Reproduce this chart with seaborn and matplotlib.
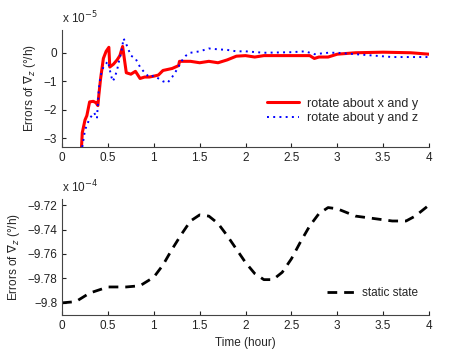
import matplotlib
matplotlib.use("Agg")
import matplotlib.pyplot as plt
import seaborn as sns
import pandas as pd

sns.set_theme(style="ticks")
plt.rcParams["font.family"] = ["Liberation Sans", "DejaVu Sans"]
plt.rcParams.update({"font.size": 8.5, "xtick.direction": "in", "ytick.direction": "in"})

# ── top panel data (units of 1e-5 deg/h)
xy_t = [0.21, 0.22, 0.25, 0.27, 0.30, 0.34, 0.37, 0.39, 0.40, 0.42, 0.45, 0.48, 0.51,
        0.52, 0.56, 0.60, 0.63, 0.66, 0.70, 0.75, 0.80, 0.85, 0.90, 0.95, 1.00, 1.05,
        1.10, 1.20, 1.27, 1.28, 1.40, 1.50, 1.60, 1.70, 1.80, 1.90, 2.00, 2.10, 2.20,
        2.50, 2.70, 2.75, 2.80, 2.90, 3.00, 3.20, 3.50, 3.80, 4.00]
xy_v = [-3.40, -2.80, -2.35, -2.20, -1.72, -1.70, -1.75, -1.85, -1.50, -0.90, -0.20, 0.05, 0.19,
        -0.50, -0.40, -0.25, -0.10, 0.22, -0.70, -0.75, -0.65, -0.90, -0.85, -0.85, -0.82, -0.78,
        -0.62, -0.55, -0.45, -0.30, -0.30, -0.35, -0.30, -0.35, -0.25, -0.12, -0.10, -0.15, -0.10,
        -0.10, -0.10, -0.20, -0.15, -0.15, -0.05, 0.00, 0.02, 0.00, -0.05]

yz_t = [0.22, 0.25, 0.30, 0.35, 0.38, 0.40, 0.42, 0.45, 0.50, 0.52, 0.55, 0.57, 0.60,
        0.62, 0.65, 0.67, 0.70, 0.75, 0.80, 0.85, 0.90, 0.95, 1.00, 1.05, 1.10, 1.15,
        1.20, 1.25, 1.30, 1.35, 1.40, 1.50, 1.60, 1.70, 1.80, 1.90, 2.00, 2.20, 2.50,
        2.65, 2.75, 2.90, 3.00, 3.20, 3.40, 3.60, 3.80, 4.00]
yz_v = [-3.30, -2.70, -2.30, -2.10, -2.30, -1.30, -0.80, -0.50, -0.30, -0.60, -1.00, -0.90, -0.60,
        -0.30, 0.10, 0.50, 0.30, -0.10, -0.20, -0.50, -0.70, -0.85, -0.80, -0.90, -1.00, -1.05,
        -0.85, -0.60, -0.30, -0.10, 0.00, 0.05, 0.15, 0.12, 0.10, 0.05, 0.05, 0.00, 0.02,
        0.05, -0.05, 0.00, 0.00, -0.05, -0.10, -0.15, -0.15, -0.15]

# ── bottom panel data (units of 1e-4 deg/h)
st_t = [0.0, 0.15, 0.3, 0.5, 0.7, 0.85, 1.0, 1.1, 1.2, 1.3, 1.4, 1.5, 1.6, 1.7, 1.8, 1.9,
        2.0, 2.1, 2.2, 2.3, 2.4, 2.5, 2.6, 2.7, 2.8, 2.9, 3.0, 3.2, 3.4, 3.6, 3.75, 3.85, 4.0]
st_v = [-9.800, -9.799, -9.792, -9.787, -9.787, -9.786, -9.779, -9.769, -9.756, -9.744, -9.733,
        -9.728, -9.729, -9.735, -9.745, -9.756, -9.767, -9.776, -9.781, -9.781, -9.775, -9.764,
        -9.750, -9.737, -9.727, -9.722, -9.723, -9.729, -9.731, -9.733, -9.733, -9.729, -9.720]

xticks = [0, 0.5, 1, 1.5, 2, 2.5, 3, 3.5, 4]
xtick_labels = ["0", "0.5", "1", "1.5", "2", "2.5", "3", "3.5", "4"]

fig = plt.figure(figsize=(4.74, 3.56), dpi=100)
ax1 = fig.add_axes([0.131, 0.587, 0.774, 0.329])
ax2 = fig.add_axes([0.131, 0.115, 0.774, 0.326])

sns.lineplot(x=xy_t, y=xy_v, ax=ax1, color="red", lw=2.2, label="rotate about x and y", sort=False)
sns.lineplot(x=yz_t, y=yz_v, ax=ax1, color="blue", lw=1.4, linestyle=(0, (1, 2.2)), label="rotate about y and z", sort=False)
sns.lineplot(x=st_t, y=st_v, ax=ax2, color="black", lw=2.0, linestyle=(0, (3.5, 2.5)), label="static state", sort=False)

ylab = "Errors of $\\nabla_z$ (°/h)"
for ax in (ax1, ax2):
    ax.set_xlim(0, 4)
    ax.set_xticks(xticks)
    ax.set_xticklabels(xtick_labels)
    ax.set_ylabel(ylab, fontsize=8.5)
    ax.tick_params(length=3, width=0.8, colors="#222222", labelsize=8.5)
    for s in ("left", "bottom"):
        ax.spines[s].set_color("#444444")
        ax.spines[s].set_linewidth(0.8)
    sns.despine(ax=ax)

ax1.set_ylim(-3.3, 0.8)
ax1.set_yticks([-3, -2, -1, 0])
ax1.set_yticklabels(["\u22123", "\u22122", "\u22121", "0"])
ax1.text(0.0, 1.03, "x 10$^{-5}$", transform=ax1.transAxes, fontsize=8.5, ha="left", va="bottom")
ax1.legend(loc="lower right", bbox_to_anchor=(1.0, 0.1), frameon=False, fontsize=9,
           handlelength=2.6, handletextpad=0.6, labelspacing=0.2)

ax2.set_ylim(-9.81, -9.715)
ax2.set_yticks([-9.8, -9.78, -9.76, -9.74, -9.72])
ax2.set_yticklabels(["\u22129.8", "\u22129.78", "\u22129.76", "\u22129.74", "\u22129.72"])
ax2.text(0.0, 1.03, "x 10$^{-4}$", transform=ax2.transAxes, fontsize=8.5, ha="left", va="bottom")
ax2.set_xlabel("Time (hour)", fontsize=8.5)
ax2.legend(loc="lower right", bbox_to_anchor=(1.0, 0.05), frameon=False, fontsize=8.5,
           handlelength=2.8, handletextpad=0.2)

fig.savefig("out.png", dpi=100)
